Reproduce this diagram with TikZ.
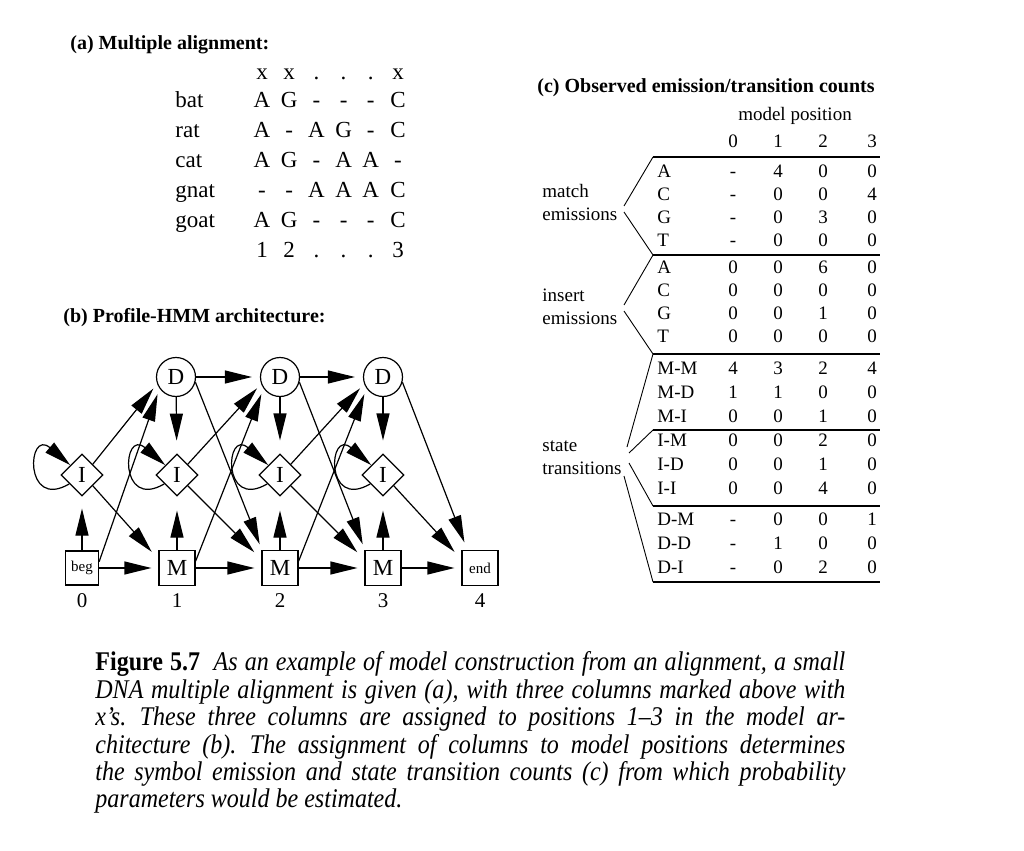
\documentclass[tikz,border=0pt]{standalone}
\usepackage{fontspec}
\setmainfont{Liberation Serif}
\newfontfamily\capfont[FakeStretch=0.89]{Liberation Serif}
\usetikzlibrary{shapes.geometric,arrows.meta}
\begin{document}
\begin{tikzpicture}[x=0.5pt,y=-0.5pt,
  lw/.style={line width=0.6pt},
  arr/.style={lw,-{Triangle[length=13.5pt,width=6.5pt]}},
  dnode/.style={circle,draw,lw,minimum size=19.5pt,inner sep=0pt,font=\fontsize{11.5}{12}\selectfont},
  inode/.style={diamond,draw,lw,minimum width=21pt,minimum height=21pt,inner sep=0pt,font=\fontsize{11.5}{12}\selectfont},
  mnode/.style={rectangle,draw,lw,minimum width=18pt,minimum height=17.5pt,inner sep=0pt,font=\fontsize{11.5}{12}\selectfont},
  snode/.style={mnode,font=\fontsize{7.5}{9}\selectfont},
  num/.style={inner sep=0pt,anchor=mid,font=\fontsize{10.5}{12}\selectfont},
  ttl/.style={inner sep=0pt,anchor=mid west,font=\fontsize{10}{12}\bfseries\selectfont},
  al/.style={inner sep=0pt,anchor=mid,font=\fontsize{11.5}{13}\selectfont},
  tbl/.style={inner sep=0pt,anchor=mid,font=\fontsize{9.5}{11}\selectfont},
  hrule/.style={line width=0.6pt},
  brk/.style={line width=0.45pt},
  captxt/.style={inner sep=0pt,anchor=base west,font=\capfont\fontsize{13.5}{14}\itshape\selectfont}
]
\useasboundingbox (0,0) rectangle (1024,851);

% ---------- (a) ----------
\node[ttl] (ta) at (70,45) {(a) Multiple alignment:};
\foreach \nm/\y in {bat/103,rat/133,cat/163,gnat/193,goat/223}
  \node[al,anchor=mid west] (n-\nm) at (175,\y) {\nm};
\foreach \r/\y/\s in {top/75/{x,x,.,.,.,x},bat/103/{A,G,-,-,-,C},rat/133/{A,-,A,G,-,C},cat/163/{A,G,-,A,A,-},gnat/193/{-,-,A,A,A,C},goat/223/{A,G,-,-,-,C},bot/253/{1,2,.,.,.,3}}
  \foreach \c [count=\i] in \s
    \node[al] (a-\r-\i) at ({262+27.2*(\i-1)},\y) {\c};

% ---------- (b) ----------
\node[ttl] (tbb) at (63,318) {(b) Profile-HMM architecture:};
\node[dnode] (D1) at (176,377) {D};
\node[dnode] (D2) at (280,377) {D};
\node[dnode] (D3) at (383,377) {D};
\node[inode] (I0) at (82,475) {I};
\node[inode] (I1) at (177,475) {I};
\node[inode] (I2) at (280,475) {I};
\node[inode] (I3) at (383,475) {I};
\node[snode,minimum width=16.5pt,minimum height=17pt] (beg) at (82,568) {beg};
\node[mnode] (M1) at (177,568) {M};
\node[mnode] (M2) at (280,568) {M};
\node[mnode] (M3) at (383,568) {M};
\node[snode] (end) at (480,568) {end};
\foreach \k/\x in {0/82,1/177,2/280,3/383,4/480}
  \node[num] (p\k) at (\x,603) {\k};

% horizontal
\draw[arr,shorten >=3.5pt] (beg) -- (M1);
\draw[arr,shorten >=3.5pt] (M1) -- (M2);
\draw[arr,shorten >=3.5pt] (M2) -- (M3);
\draw[arr,shorten >=3.5pt] (M3) -- (end);
\draw[arr,shorten >=4pt] (D1) -- (D2);
\draw[arr,shorten >=4pt] (D2) -- (D3);
% vertical
\draw[arr,shorten >=6pt] (beg) -- (I0);
\draw[arr,shorten >=7pt] (M1) -- (I1);
\draw[arr,shorten >=7pt] (M2) -- (I2);
\draw[arr,shorten >=7pt] (M3) -- (I3);
\draw[arr,shorten >=6.5pt] (D1) -- (I1);
\draw[arr,shorten >=6.5pt] (D2) -- (I2);
\draw[arr,shorten >=6.5pt] (D3) -- (I3);
% to D
\draw[arr,shorten >=3pt] (I0.45) -- (D1.200);
\draw[arr,shorten >=3pt] (beg.20) -- (D1.215);
\draw[arr,shorten >=3pt] (I1.45) -- (D2.200);
\draw[arr,shorten >=3pt] (M1.20) -- (D2.215);
\draw[arr,shorten >=3pt] (I2.45) -- (D3.200);
\draw[arr,shorten >=3pt] (M2.20) -- (D3.215);
% to M
\draw[arr,shorten >=5pt] (I0.-45) -- (M1.155);
\draw[arr,shorten >=5pt] (I1.-45) -- (M2.155);
\draw[arr,shorten >=5pt] (I2.-45) -- (M3.155);
\draw[arr,shorten >=5pt] (I3.-45) -- (end.155);
\draw[arr,shorten >=3pt] (D1.-15) -- (M2.135);
\draw[arr,shorten >=3pt] (D2.-15) -- (M3.135);
\draw[arr,shorten >=4pt] (D3.-15) -- (end.125);
% loops
\foreach \n in {I0,I1,I2,I3}
  \draw[arr] (\n.215) .. controls +(-46,27) and +(-43,-37) .. (\n.140);

% ---------- (c) ----------
\node[ttl] (tc) at (537,88) {(c) Observed emission/transition counts};
\node[tbl] (mp) at (795,116) {model position};
\foreach \c/\x in {0/733,1/778,2/823,3/872}
  \node[tbl] (h\c) at (\x,143) {\c};
\foreach \l/\y/\va/\vb/\vc/\vd [count=\r] in {
  A/173/-/4/0/0, C/196/-/0/0/4, G/219/-/0/3/0, T/242/-/0/0/0,
  A/269/0/0/6/0, C/292/0/0/0/0, G/315/0/0/1/0, T/338/0/0/0/0,
  M-M/370/4/3/2/4, M-D/394/1/1/0/0, M-I/418/0/0/1/0,
  I-M/442/0/0/2/0, I-D/466/0/0/1/0, I-I/490/0/0/4/0,
  D-M/521/-/0/0/1, D-D/545/-/1/0/0, D-I/569/-/0/2/0}{
  \node[tbl,anchor=mid west] (rl\r) at (657,\y) {\l};
  \node[tbl] (v\r a) at (733,\y) {\va};
  \node[tbl] (v\r b) at (778,\y) {\vb};
  \node[tbl] (v\r c) at (823,\y) {\vc};
  \node[tbl] (v\r d) at (872,\y) {\vd};
}
\foreach \y in {157,255,354,430,506,582}
  \draw[hrule] (653,\y) -- (880,\y);
\node[tbl,anchor=mid west] (lm1) at (542,193) {match};
\node[tbl,anchor=mid west] (lm2) at (542,216) {emissions};
\node[tbl,anchor=mid west] (li1) at (542,297) {insert};
\node[tbl,anchor=mid west] (li2) at (542,320) {emissions};
\node[tbl,anchor=mid west] (ls1) at (542,447) {state};
\node[tbl,anchor=mid west] (ls2) at (542,470) {transitions};
% brackets
\draw[brk] (653,157) -- (624,206);
\draw[brk] (624,212) -- (653,255);
\draw[brk] (653,255) -- (624,305);
\draw[brk] (624,311) -- (653,354);
\draw[brk] (653,354) -- (627,447);
\draw[brk] (653,430) -- (629,453);
\draw[brk] (629,463) -- (653,506);
\draw[brk] (624,476) -- (653,582);

% ---------- caption ----------
\node[captxt] (c1) at (95,670) {\makebox[375pt][s]{{\upshape\bfseries Figure 5.7}\enspace As an example of model construction from an alignment, a small}};
\node[captxt] (c2) at (95,698) {\makebox[375pt][s]{DNA multiple alignment is given (a), with three columns marked above with}};
\node[captxt] (c3) at (95,725) {\makebox[375pt][s]{x’s.\enspace These three columns are assigned to positions 1–3 in the model ar-}};
\node[captxt] (c4) at (95,753) {\makebox[375pt][s]{chitecture (b).\enspace The assignment of columns to model positions determines}};
\node[captxt] (c5) at (95,780) {\makebox[375pt][s]{the symbol emission and state transition counts (c) from which probability}};
\node[captxt] (c6) at (95,807) {parameters would be estimated.};
\end{tikzpicture}
\end{document}
